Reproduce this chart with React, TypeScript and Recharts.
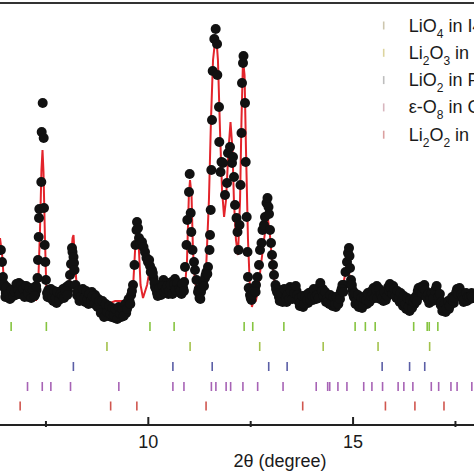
import React from 'react';
import { ComposedChart, XAxis, YAxis, Scatter, Line } from 'recharts';

// Observed intensity (a.u.) vs 2θ (degree)
const observed: [number, number][] = [
  [6.40,175],[6.427,163],[6.45,148],[6.49,137],
  [6.52,132],[6.56,128],[6.60,134],[6.64,127],[6.68,131],[6.72,136],[6.76,130],[6.80,138],[6.84,142],[6.88,137],[6.92,133],[6.96,139],[7.00,131],[7.04,136],[7.08,128],[7.12,134],[7.16,130],[7.20,137],[7.24,131],[7.27,135],
  [7.294,147],[7.306,165],[7.323,188],[7.33,207],[7.338,216],[7.387,243],[7.396,293],[7.421,322],[7.445,287],[7.452,217],[7.47,180],[7.484,163],[7.50,145],[7.526,132],
  [7.56,135],[7.60,127],[7.64,131],[7.68,124],[7.72,130],[7.76,122],[7.80,128],[7.84,133],[7.88,127],[7.92,136],[7.96,131],[8.00,138],[8.04,134],
  [8.063,140],[8.087,150],[8.112,161],[8.136,177],[8.148,173],[8.173,168],[8.185,162],[8.197,155],[8.222,140],[8.258,130],
  [8.30,128],[8.34,133],[8.38,125],[8.42,130],[8.46,123],[8.50,129],[8.54,121],[8.58,127],[8.62,133],[8.66,125],[8.70,130],[8.74,122],[8.78,126],
  [8.82,121],[8.86,116],[8.90,120],[8.94,112],[8.98,117],[9.02,109],[9.06,114],[9.10,108],[9.14,113],[9.18,107],[9.22,112],[9.26,110],[9.30,115],[9.34,108],[9.38,113],[9.42,118],[9.46,112],[9.50,119],[9.54,124],[9.58,130],
  [9.626,140],[9.662,160],[9.687,180],[9.711,195],[9.724,203],[9.748,197],[9.772,187],[9.809,181],[9.846,183],[9.882,178],[9.919,173],[9.955,167],[9.992,163],[10.041,159],[10.09,155],[10.127,147],[10.163,138],[10.212,132],
  [10.25,134],[10.29,140],[10.33,133],[10.37,145],[10.41,138],[10.45,142],[10.49,131],[10.53,137],[10.57,143],[10.61,136],[10.65,146],[10.69,139],[10.73,133],[10.77,140],[10.81,131],[10.85,137],[10.875,143],
  [10.896,158],[10.932,180],[10.952,205],[10.993,233],[11.01,251],[11.035,212],[11.05,193],[11.079,175],[11.115,163],[11.14,155],[11.176,145],[11.213,133],[11.25,127],[11.286,133],
  [11.335,142],[11.384,147],[11.42,153],[11.457,158],
  [11.494,175],[11.506,190],[11.523,215],[11.538,255],[11.555,305],[11.572,354],[11.611,386],[11.645,396],[11.678,381],[11.685,350],[11.726,318],[11.733,283],[11.763,253],[11.787,263],[11.823,262],[11.872,230],[11.921,242],[11.946,272],[11.995,278],[12.043,262],[12.068,268],[12.092,248],[12.117,220],[12.153,207],[12.178,193],[12.202,175],[12.227,200],[12.251,240],[12.276,292],[12.288,342],[12.312,362],[12.324,369],[12.361,322],[12.378,263],[12.402,208],[12.422,173],[12.434,148],[12.451,137],[12.483,130],[12.52,125],[12.556,132],[12.605,137],
  [12.63,140],[12.666,148],[12.703,160],[12.727,175],[12.764,182],[12.788,195],[12.825,200],[12.849,208],[12.886,222],[12.91,227],[12.935,218],[12.947,211],[12.971,195],[12.996,182],[13.02,170],[13.045,160],[13.069,150],[13.106,140],[13.142,133],[13.19,128],
  [13.22,128],[13.26,135],[13.30,125],[13.34,131],[13.38,123],[13.42,133],[13.46,138],[13.50,130],[13.54,137],[13.58,129],[13.62,134],[13.66,124],[13.70,119],[13.74,126],[13.78,118],[13.82,124],[13.86,130],[13.90,122],[13.94,128],[13.98,133],[14.02,125],[14.06,131],[14.10,126],[14.14,134],[14.18,138],[14.22,131],[14.26,136],[14.30,127],[14.34,123],[14.38,129],[14.42,121],[14.46,127],[14.50,119],[14.54,125],[14.58,118],[14.62,124],[14.66,129],[14.70,133],[14.74,140],
  [14.778,140],[14.815,153],[14.852,163],[14.876,172],[14.90,177],[14.913,169],[14.925,157],[14.95,145],[14.986,135],
  [15.02,128],[15.06,121],[15.10,127],[15.14,118],[15.18,124],[15.22,117],[15.26,123],[15.30,129],[15.34,121],[15.38,127],[15.42,133],[15.46,126],[15.50,137],[15.54,131],[15.58,139],[15.62,132],[15.66,126],[15.70,131],[15.74,124],[15.78,129],[15.82,134],[15.86,138],[15.90,141],[15.94,135],[15.98,139],[16.02,132],[16.06,127],[16.10,131],[16.14,123],[16.18,128],[16.22,119],[16.26,125],[16.30,116],[16.34,122],[16.38,114],[16.42,120],[16.46,126],[16.50,121],[16.54,129],[16.58,134],[16.62,129],[16.66,138],[16.70,133],[16.74,140],[16.78,131],[16.82,126],[16.86,122],[16.90,128],[16.94,124],[16.98,131],[17.02,136],[17.06,131],[17.10,126],[17.14,120],[17.18,114],[17.22,119],[17.26,113],[17.30,121],[17.34,116],[17.38,123],[17.42,128],[17.46,122],[17.50,130],[17.54,136],[17.58,129],[17.62,134],[17.66,127],[17.70,123],[17.74,129],[17.78,124],[17.82,131],[17.86,126],[17.90,132],[17.94,127],
];

const observedBand: [number, number][] = [
  [6.47,141],[6.51,128],
  [6.54,138],[6.58,131],[6.62,126],[6.66,135],[6.70,129],[6.74,133],[6.78,141],[6.82,135],[6.86,131],[6.90,140],[6.94,136],[6.98,128],[7.02,139],[7.06,132],[7.10,137],[7.14,127],[7.18,135],[7.22,129],[7.26,139],
  [7.54,128],[7.58,131],[7.62,136],[7.66,128],[7.70,134],[7.74,127],[7.78,133],[7.82,125],[7.86,131],[7.90,129],[7.94,127],[7.98,134],[8.02,130],
  [8.28,134],[8.32,124],[8.36,129],[8.40,136],[8.44,127],[8.48,134],[8.52,126],[8.56,131],[8.60,124],[8.64,129],[8.68,121],[8.72,127],[8.76,118],[8.80,124],
  [8.84,112],[8.88,124],[8.92,108],[8.96,121],[9.00,113],[9.04,119],[9.08,111],[9.12,117],[9.16,110],[9.20,116],[9.24,106],[9.28,118],[9.32,111],[9.36,116],[9.40,109],[9.44,121],[9.48,116],[9.52,126],[9.56,121],[9.60,134],
  [10.02,165],[10.06,153],[10.11,152],[10.15,142],[10.19,136],
  [10.23,129],[10.27,137],[10.31,130],[10.35,139],[10.39,133],[10.43,136],[10.47,139],[10.51,134],[10.55,140],[10.59,131],[10.63,141],[10.67,135],[10.71,142],[10.75,136],[10.79,135],[10.83,141],[10.87,134],
  [11.23,136],[11.27,126],[11.31,137],[11.36,139],[11.40,150],[11.44,151],
  [12.50,127],[12.54,130],[12.58,134],[12.62,133],
  [13.12,136],[13.17,132],[13.21,124],
  [13.24,131],[13.28,123],[13.32,136],[13.36,127],[13.40,130],[13.44,126],[13.48,134],[13.52,126],[13.56,132],[13.60,139],[13.64,130],[13.68,127],[13.72,123],[13.76,129],[13.80,121],[13.84,128],[13.88,125],[13.92,132],[13.96,125],[14.00,129],[14.04,136],[14.08,128],[14.12,130],[14.16,127],[14.20,142],[14.24,134],[14.28,129],[14.32,133],[14.36,126],[14.40,124],[14.44,130],[14.48,123],[14.52,128],[14.56,121],[14.60,128],[14.64,121],[14.68,126],[14.72,136],
  [14.76,133],[14.97,140],[15.00,131],
  [15.04,132],[15.08,124],[15.12,130],[15.16,121],[15.20,127],[15.24,120],[15.28,126],[15.32,125],[15.36,132],[15.40,123],[15.44,129],[15.48,131],[15.52,127],[15.56,135],[15.60,127],[15.64,136],[15.68,130],[15.72,127],[15.76,133],[15.80,125],[15.84,129],[15.88,134],[15.92,137],[15.96,131],[16.00,136],[16.04,129],[16.08,134],[16.12,127],[16.16,132],[16.20,124],[16.24,129],[16.28,121],[16.32,127],[16.36,118],[16.40,125],[16.44,117],[16.48,123],[16.52,126],[16.56,124],[16.60,137],[16.64,133],[16.68,132],[16.72,137],[16.76,135],[16.80,128],[16.84,131],[16.88,126],[16.92,132],[16.96,127],[17.00,134],[17.04,139],[17.08,128],[17.12,131],[17.16,123],[17.20,117],[17.24,122],[17.28,116],[17.32,124],[17.36,119],[17.40,126],[17.44,124],[17.48,127],[17.52,133],[17.56,131],[17.60,137],[17.64,131],[17.68,128],[17.72,126],[17.76,132],[17.80,128],[17.84,128],[17.88,129],[17.92,128],
];

// Calculated (refined) profile
const calculated: [number, number][] = [
  [6.378,187],[6.43,170],[6.48,140],[6.52,132],[6.62,131],[6.74,132],[6.82,139],[6.87,142],[6.92,135],[6.96,126],[7.11,125],[7.26,125],
  [7.31,140],[7.355,195],[7.39,255],[7.416,275],[7.44,253],[7.477,185],[7.51,135],[7.55,125],[7.72,123],[7.89,125],[7.99,128],
  [8.06,135],[8.11,165],[8.15,187],[8.173,190],[8.21,163],[8.26,133],[8.33,127],[8.58,125],[8.77,122],[8.92,117],[8.99,115],[9.06,122],[9.19,124],[9.43,124],[9.55,125],
  [9.63,140],[9.69,185],[9.724,200],[9.76,185],[9.81,140],[9.87,127],[9.97,140],[10.04,157],[10.115,145],[10.21,128],[10.31,135],[10.38,145],[10.46,139],[10.53,133],[10.60,141],[10.65,143],[10.725,137],[10.82,133],[10.90,140],
  [10.945,165],[10.99,230],[11.018,245],[11.055,230],[11.09,175],[11.14,142],[11.19,137],[11.26,138],[11.335,145],[11.41,155],
  [11.48,225],[11.53,305],[11.58,365],[11.628,383],[11.665,385],[11.70,365],[11.75,295],[11.80,235],[11.85,208],[11.897,225],[11.958,275],[12.007,303],[12.056,275],[12.09,225],[12.14,185],[12.19,170],
  [12.24,225],[12.275,305],[12.312,365],[12.35,350],[12.385,275],[12.434,185],[12.483,135],[12.53,118],[12.58,127],[12.63,125],
  [12.68,135],[12.75,160],[12.825,185],[12.874,200],[12.92,207],[12.97,190],[13.02,165],[13.09,140],[13.167,127],[13.29,127],[13.41,125],[13.53,129],[13.63,130],[13.70,125],[13.80,121],[13.875,125],[13.95,128],[14.07,126],[14.17,133],[14.24,142],[14.314,130],[14.39,125],[14.51,123],[14.61,120],[14.705,128],
  [14.78,145],[14.85,160],[14.91,150],[14.974,131],[15.10,125],[15.22,122],[15.34,123],[15.46,129],[15.585,130],[15.71,127],[15.90,127],[16.05,128],[16.146,127],[16.27,125],[16.39,122],[16.49,123],[16.59,130],[16.683,137],[16.756,135],[16.854,125],[16.95,128],[17.05,137],[17.12,129],[17.22,122],[17.37,127],[17.54,132],[17.685,125],[17.81,126],[17.953,126],
];

// Bragg reflection positions (2θ) for each phase
const reflLiO4 = [6.65, 7.51, 10.04, 10.63, 12.34, 12.55, 13.31, 15.05, 15.30, 15.54, 16.48, 16.81, 16.86, 17.07];
const reflLi2O3 = [8.99, 11.02, 12.72, 14.27, 15.61, 16.87];
const reflLiO2 = [8.17, 10.60, 11.56, 12.94, 13.39, 15.71, 16.38, 16.75];
const reflO8 = [7.05, 7.41, 7.62, 8.10, 9.28, 10.60, 10.87, 11.54, 11.65, 11.90, 12.01, 12.31, 12.67, 13.29, 14.10, 14.38, 14.43, 14.63, 14.85, 15.26, 15.46, 15.72, 16.10, 16.24, 16.46, 16.91, 17.09, 17.39, 17.54, 17.90];
const reflLi2O2 = [6.87, 9.08, 9.72, 11.41, 13.77, 15.79, 16.51, 17.22];

const phaseLabels = ['LiO_4 in I4/mcm', 'Li_2O_3 in Pnma', 'LiO_2 in Pnnm', 'ε-O_8 in C2/m', 'Li_2O_2 in P6_3/mmc'];
const phaseRefl = [reflLiO4, reflLi2O3, reflLiO2, reflO8, reflLi2O2];
const phaseColors = ['#86c440', '#a3c24c', '#5b5ea6', '#a763b5', '#d0564f'];
const legendMarkColors = ['#cdc6ae', '#dcd49e', '#bdbdbd', '#d8b6be', '#dba0a0'];
const rowLevels = [98.5, 78.5, 58.5, 38.5, 19];

const xTicks = [7.5, 10, 12.5, 15, 17.5];
const FONT = '"Liberation Sans", Arial, sans-serif';

const obsData = [...observed, ...observedBand].map(([x, y]) => ({ x, y }));
const calcData = calculated.map(([x, y]) => ({ x, y }));

const Dot = (p: any) => <circle cx={p.cx} cy={p.cy} r={5} fill="#111" />;

const makeBar = (color: string) => (p: any) => (
  <line x1={p.cx} x2={p.cx} y1={p.cy - 4.5} y2={p.cy + 4.5} stroke={color} strokeWidth={1.6} />
);

const AxisTick = (props: any) => {
  const { x, y, payload } = props;
  const v = payload.value;
  const major = v % 5 === 0;
  return (
    <g>
      {major ? (
        <line x1={x} x2={x} y1={y - 8} y2={y} stroke="#222" strokeWidth={2} />
      ) : (
        <line x1={x} x2={x} y1={y - 4} y2={y + 2} stroke="#222" strokeWidth={2} />
      )}
      {major && (
        <text x={x} y={y + 23} textAnchor="middle" fontSize={18} fill="#1a1a1a" fontFamily={FONT}>
          {v}
        </text>
      )}
    </g>
  );
};

const renderLabel = (label: string) => {
  const parts: React.ReactNode[] = [];
  let buf = '';
  let sub = false;
  let key = 0;
  for (let i = 0; i < label.length; i++) {
    const ch = label[i];
    if (ch === '_') {
      if (buf) {
        parts.push(<tspan key={key++} fontSize={18} dy={sub ? -6 : 0}>{buf}</tspan>);
        sub = false;
      }
      buf = '';
      parts.push(<tspan key={key++} fontSize={12} dy={sub ? 0 : 6}>{label[i + 1]}</tspan>);
      sub = true;
      i++;
    } else {
      buf += ch;
    }
  }
  if (buf) parts.push(<tspan key={key++} fontSize={18} dy={sub ? -6 : 0}>{buf}</tspan>);
  return parts;
};

export default function App() {
  return (
    <div style={{ position: 'absolute', left: 0, top: 0, width: 474, height: 474, background: '#fff' }}>
      <ComposedChart width={474} height={474} margin={{ top: 3, right: 0, bottom: 0, left: 0 }}>
        <XAxis
          dataKey="x"
          type="number"
          domain={[6.378, 17.953]}
          allowDataOverflow
          ticks={xTicks}
          tickSize={0}
          tickMargin={0}
          height={49}
          axisLine={{ stroke: '#222', strokeWidth: 2 }}
          tickLine={false}
          tick={<AxisTick />}
          interval={0}
        />
        <YAxis dataKey="y" type="number" domain={[0, 422]} hide allowDataOverflow />
        {phaseRefl.map((arr, i) => (
          <Scatter
            key={i}
            data={arr.map((x) => ({ x, y: rowLevels[i] }))}
            shape={makeBar(phaseColors[i])}
            isAnimationActive={false}
          />
        ))}
        <Scatter data={obsData} shape={Dot} isAnimationActive={false} />
        <Line
          data={calcData}
          dataKey="y"
          type="linear"
          stroke="#e3242b"
          strokeWidth={2}
          dot={false}
          activeDot={false}
          isAnimationActive={false}
        />
      </ComposedChart>
      <svg width={474} height={474} style={{ position: 'absolute', left: 0, top: 0, pointerEvents: 'none' }}>
        <line x1={0} x2={474} y1={3} y2={3} stroke="#333" strokeWidth={2} />
        {phaseLabels.map((lab, i) => {
          const cy = 25.5 + i * 27.3;
          return (
            <g key={i}>
              <line x1={383.7} x2={383.7} y1={cy - 4} y2={cy + 4} stroke={legendMarkColors[i]} strokeWidth={1.6} />
              <text x={408.7} y={cy + 6} fill="#1a1a1a" fontFamily={FONT} fontSize={18}>
                {renderLabel(lab)}
              </text>
            </g>
          );
        })}
        <text x={280} y={467} textAnchor="middle" fontSize={18} fill="#1a1a1a" fontFamily={FONT}>
          2θ (degree)
        </text>
      </svg>
    </div>
  );
}
